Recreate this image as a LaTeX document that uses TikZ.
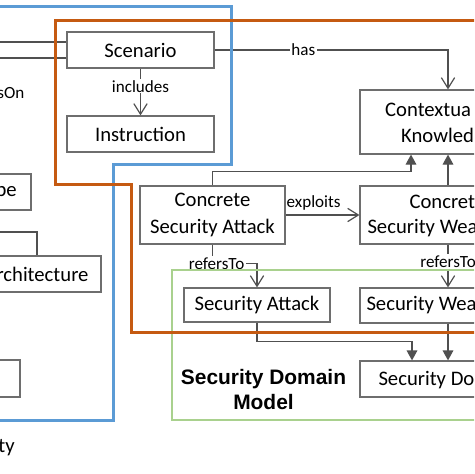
\documentclass[tikz,border=0pt]{standalone}
\usepackage{fontspec}
\setmainfont{Carlito}
\newfontfamily\headfont{Liberation Sans}
\usetikzlibrary{arrows.meta}

\definecolor{framblue}{RGB}{91,155,213}
\definecolor{framorange}{RGB}{197,90,17}
\definecolor{framgreen}{RGB}{169,209,142}
\definecolor{boxgray}{RGB}{110,110,110}
\definecolor{linkgray}{RGB}{80,80,80}

\tikzset{every picture/.style={line width=0.75pt}}
\tikzset{
  box/.style={draw=boxgray, fill=white, line width=0.9pt, inner sep=0.75pt, align=center, font=\fontsize{15.5}{20}\selectfont},
  frag/.style={anchor=west, inner sep=0pt, font=\fontsize{15.5}{20}\selectfont},
  lbl/.style={inner sep=1pt, fill=white, font=\fontsize{12.8}{15}\selectfont},
  link/.style={draw=linkgray, line width=0.9pt},
  openhead/.style={-{Straight Barb[length=8pt,width=10pt]}},
  fullhead/.style={-{Triangle[length=7.5pt,width=8pt]}},
  frame/.style={line width=2.25pt, line join=miter},
}

\begin{document}
\begin{tikzpicture}[x=0.75pt,y=0.75pt,yscale=-1,xscale=1]
\useasboundingbox (0,0) rectangle (474,474);
\clip (0,0) rectangle (474,474);

%Shape: Rectangle [scenario side]
\node[box, minimum width=110.25pt, minimum height=27pt] (scen) at (140.5,50) {Scenario};
\node[box, minimum width=110.25pt, minimum height=27pt] (instr) at (140.5,134) {Instruction};
%Shape: Rectangle [left, cut off]
\node[box, minimum width=90pt, minimum height=27pt] (tpe) at (-29,192) {};
\node[box, minimum width=96pt, minimum height=27pt] (arch) at (37,274) {};
\node[box, minimum width=90pt, minimum height=27.75pt] (lowbox) at (-40,378.5) {};
%Shape: Rectangle [attack / weakness]
\node[box, minimum width=108.75pt, minimum height=43.5pt] (catt) at (212.5,215) {Concrete\\Security Attack};
\node[box, minimum width=109.5pt, minimum height=25.5pt] (satt) at (257,305) {Security Attack};
%Shape: Rectangle [right, cut off]
\node[box, minimum width=132pt, minimum height=48pt] (ctx) at (448,122) {};
\node[box, minimum width=132pt, minimum height=43.5pt] (cweak) at (448,215) {};
\node[box, minimum width=132pt, minimum height=26.25pt] (sweak) at (448,305.5) {};
\node[box, minimum width=132pt, minimum height=27pt] (sdom) at (448,379) {};

% Text Node
\node[frag] (ctxa) at (384.7,110) {Contextua};
\node[frag] (ctxb) at (400.7,135) {Knowled};
\node[frag] (cweaka) at (409,202) {Concret};
\node[frag] (cweakb) at (367,228) {Security Wea};
\node[frag] (sweaka) at (366,305) {Security Wea};
\node[frag] (sdoma) at (378,380) {Security Do};
\node[frag] (tpea) at (-5,193) {pe};
\node[frag] (archa) at (-4,274) {rchitecture};
\node[frag] (tya) at (-2,448) {ty};
\node[frag, font=\fontsize{12.8}{15}\selectfont] (dep) at (-3,93) {sOn};
\node[inner sep=0pt, align=center, font=\headfont\bfseries\fontsize{15.7}{18.75}\selectfont] (sdmlbl) at (263.5,390) {Security Domain\\Model};

%Straight Lines [left, from outside]
\coordinate (offa) at (-5,42);
\coordinate (offb) at (-5,58);
\coordinate (offc) at (-5,232);
\draw[link] (offa) -- ([yshift=-6pt]scen.west);
\draw[link] (offb) -- ([yshift=6pt]scen.west);
\draw[link] (offc) -| (arch.north);

%Straight Lines [associations]
\draw[link, openhead] (scen.south) -- (instr.north) node[lbl, pos=0.375] (incl) {includes};
\draw[link, openhead] (scen.east) -| (ctx.north) node[lbl, pos=0.19] (has) {has};
\draw[link, openhead] (catt.east) -- (cweak.west) node[lbl, pos=0.38, above=2pt, fill=none] (expl) {exploits};
\draw[link, openhead] (catt.south) -- ++(0,19) node[lbl, xshift=3pt] (rfa) {refersTo} -| (satt.north);
\draw[link, openhead] (cweak.south) -- (sweak.north) node[lbl, pos=0.4] (rfw) {refersTo};

%Straight Lines [generalisations]
\draw[link, fullhead] (catt.north) -- ++(0,-14) -| ([xshift=-27.75pt]ctx.south);
\draw[link, fullhead] (cweak.north) -- (ctx.south);
\draw[link, fullhead] (satt.south) -- ++(0,19) -| ([xshift=-27pt]sdom.north);
\draw[link, fullhead] (sweak.south) -- (sdom.north);

%Shape: Frames
\draw[frame, framgreen, line width=1.75pt] (172,270) rectangle (479,420);
\draw[frame, framblue] (-5,7) -- (231,7) -- (231,164) -- (113,164) -- (113,420) -- (-5,420);
\draw[frame, framorange] (479,21) -- (55,21) -- (55,184) -- (131,184) -- (131,332) -- (479,332);

\end{tikzpicture}
\end{document}
